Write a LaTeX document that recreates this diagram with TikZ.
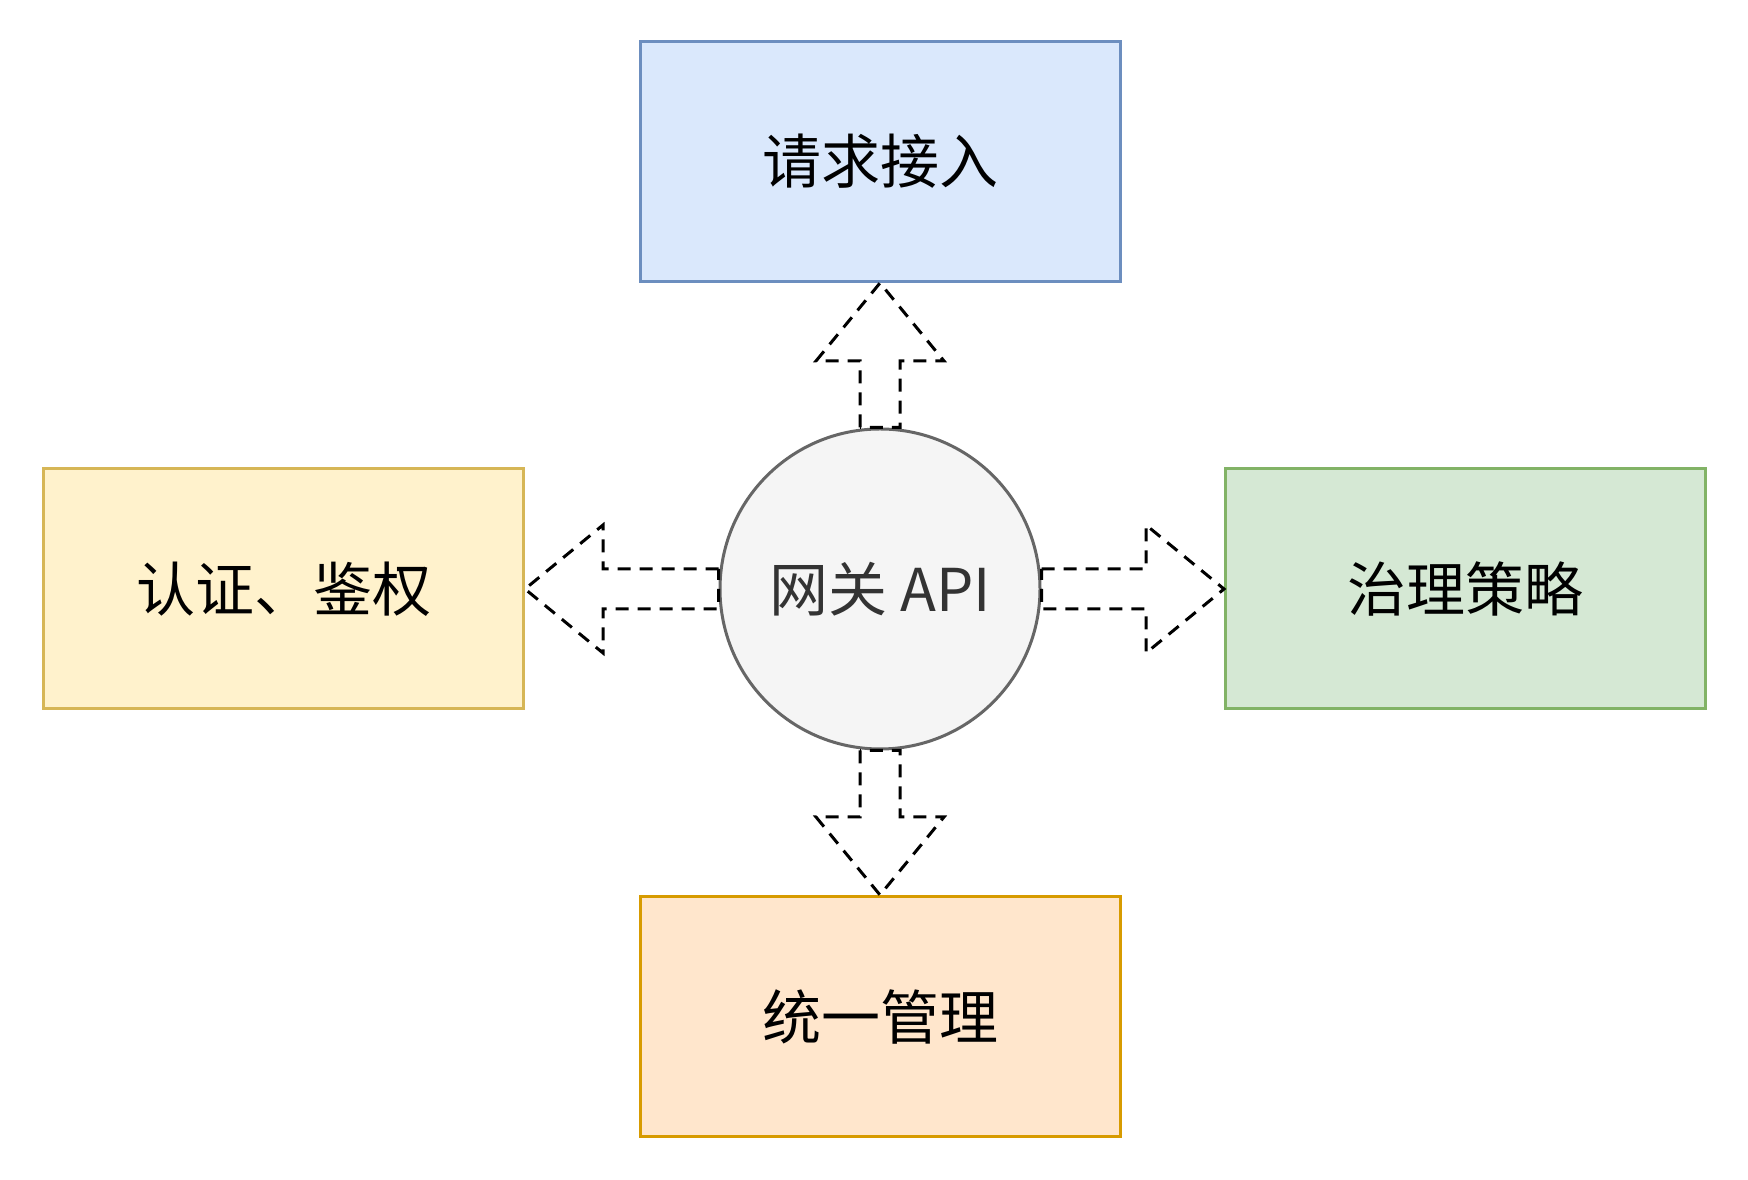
\documentclass[tikz,border=0pt]{standalone}
\usepackage{fontspec}
\setmainfont{Noto Sans CJK SC}
\usetikzlibrary{calc}
\definecolor{bluefill}{HTML}{DAE8FC}
\definecolor{bluedraw}{HTML}{6C8EBF}
\definecolor{yellowfill}{HTML}{FFF2CC}
\definecolor{yellowdraw}{HTML}{D6B656}
\definecolor{greenfill}{HTML}{D5E8D4}
\definecolor{greendraw}{HTML}{82B366}
\definecolor{orangefill}{HTML}{FFE6CC}
\definecolor{orangedraw}{HTML}{D79B00}
\definecolor{grayfill}{HTML}{F5F5F5}
\definecolor{graydraw}{HTML}{666666}
\definecolor{graytext}{HTML}{333333}
\begin{document}
\begin{tikzpicture}[x=1pt,y=1pt,
  box/.style={draw, line width=3pt, minimum width=480pt, minimum height=240pt,
    inner sep=0pt, font=\fontsize{59}{70}\selectfont},
  hub/.style={circle, draw=graydraw, fill=grayfill, line width=3pt,
    minimum size=320pt, inner sep=0pt, text=graytext, font=\fontsize{59}{70}\selectfont},
  blockarrow/.style={draw=black, line width=3pt, dash pattern=on 13pt off 9pt, line join=miter}
]
\useasboundingbox (0,0) rectangle (1748,1180);
\fill[white] (0,0) rectangle (1748,1180);

\node[hub] (gw) at (880,591) {网关 API};
\node[box, fill=bluefill, draw=bluedraw] (req) at (880,1018.5) {请求接入};
\node[box, fill=yellowfill, draw=yellowdraw] (auth) at (283.5,591) {认证、鉴权};
\node[box, fill=greenfill, draw=greendraw] (gov) at (1465.5,591) {治理策略};
\node[box, fill=orangefill, draw=orangedraw] (mgmt) at (880,163.5) {统一管理};

% up arrow
\draw[blockarrow] ($(gw.north)+(-20,0)$) -- ($(req.south)+(-20,-78)$) -- ($(req.south)+(-64,-78)$)
  -- (req.south) -- ($(req.south)+(64,-78)$) -- ($(req.south)+(20,-78)$) -- ($(gw.north)+(20,0)$) -- cycle;
% down arrow
\draw[blockarrow] ($(gw.south)+(-20,0)$) -- ($(mgmt.north)+(-20,78)$) -- ($(mgmt.north)+(-64,78)$)
  -- (mgmt.north) -- ($(mgmt.north)+(64,78)$) -- ($(mgmt.north)+(20,78)$) -- ($(gw.south)+(20,0)$) -- cycle;
% left arrow
\draw[blockarrow] ($(gw.west)+(0,20)$) -- ($(auth.east)+(78,20)$) -- ($(auth.east)+(78,64)$)
  -- (auth.east) -- ($(auth.east)+(78,-64)$) -- ($(auth.east)+(78,-20)$) -- ($(gw.west)+(0,-20)$) -- cycle;
% right arrow
\draw[blockarrow] ($(gw.east)+(0,20)$) -- ($(gov.west)+(-78,20)$) -- ($(gov.west)+(-78,64)$)
  -- (gov.west) -- ($(gov.west)+(-78,-64)$) -- ($(gov.west)+(-78,-20)$) -- ($(gw.east)+(0,-20)$) -- cycle;
\end{tikzpicture}
\end{document}
